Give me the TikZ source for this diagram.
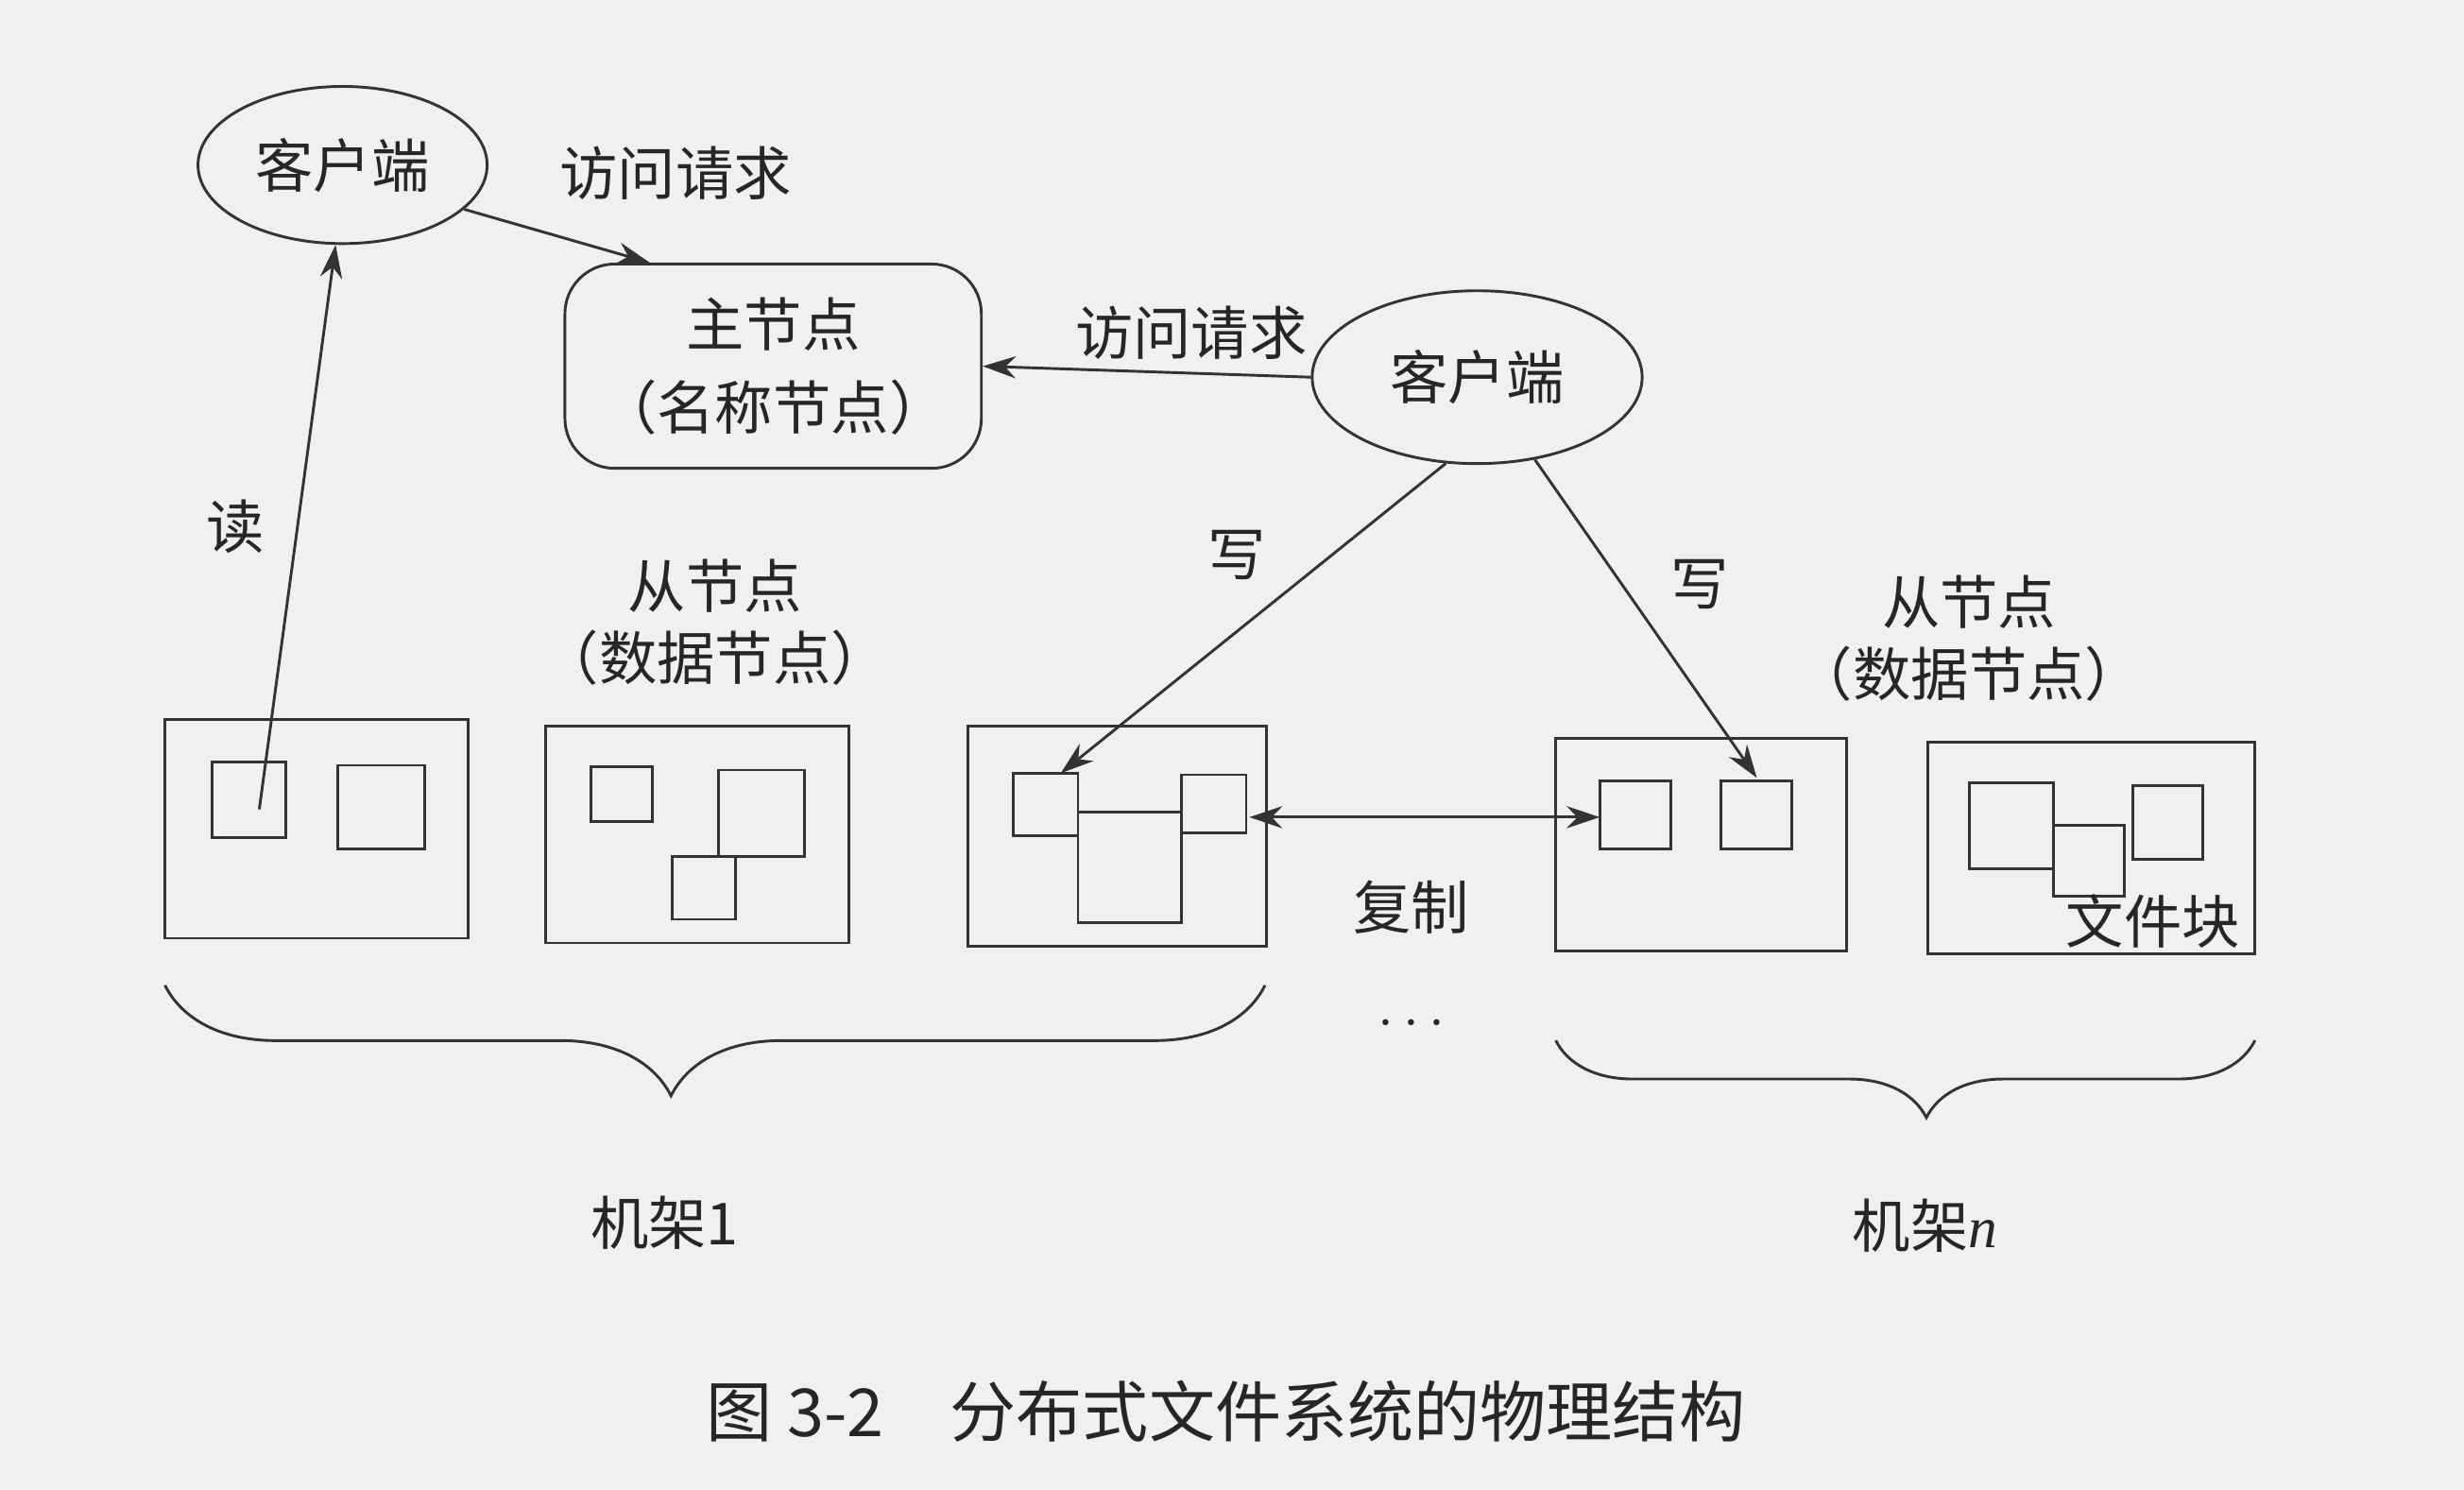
\documentclass[tikz,border=0pt]{standalone}
\usepackage{fontspec}
\setmainfont{Liberation Serif}
\newfontfamily\cjk{Noto Sans CJK SC}
\usetikzlibrary{decorations.pathreplacing,arrows.meta,shapes.geometric}
\begin{document}
\begin{tikzpicture}[x=0.02cm,y=-0.02cm,line width=1pt,
  txt/.style={font=\cjk\fontsize{21}{26}\selectfont,text=black!85},
  rack/.style={draw=black!80},
  blk/.style={draw=black!80},
  arr/.style={-{Stealth[length=12pt,width=8pt]},draw=black!80}]
\fill[gray!12] (0,0) rectangle (1568,948);
\useasboundingbox (0,0) rectangle (1568,948);
% clients
\node[draw=black!80,ellipse,minimum width=184*0.02cm,minimum height=100*0.02cm,inner sep=0pt,txt] (c1) at (218,105) {客户端};
\node[draw=black!80,ellipse,minimum width=210*0.02cm,minimum height=110*0.02cm,inner sep=0pt,txt] (c2) at (940,240) {客户端};
\node[draw=black!80,rounded corners=18pt,minimum width=265*0.02cm,minimum height=130*0.02cm,txt,align=center] (m) at (492,233) {主节点\\[4pt]（名称节点）};
\node[txt] (l1) at (430,110) {访问请求};
\node[txt] (l2) at (758,212) {访问请求};
\draw[arr] (c1.-20) -- (m.140);
\draw[arr] (c2.west) -- (m.east);
% racks
\node[rack,minimum width=193*0.02cm,minimum height=139*0.02cm] (b1) at (201.5,527.5) {};
\node[rack,minimum width=193*0.02cm,minimum height=138*0.02cm] (b2) at (443.5,531) {};
\node[rack,minimum width=190*0.02cm,minimum height=140*0.02cm] (b3) at (711,532) {};
\node[rack,minimum width=185*0.02cm,minimum height=135*0.02cm] (b4) at (1082.5,537.5) {};
\node[rack,minimum width=208*0.02cm,minimum height=135*0.02cm] (b5) at (1331,539.5) {};
% blocks
\draw[blk] (135,485) rectangle (182,533);
\draw[blk] (215,487) rectangle (270,540);
\draw[blk] (376,488) rectangle (415,523);
\draw[blk] (457,490) rectangle (512,545);
\draw[blk] (428,545) rectangle (468,585);
\draw[blk] (686,517) rectangle (752,587);
\draw[blk,fill=gray!12] (645,492) rectangle (686,532);
\draw[blk,fill=gray!12] (752,493) rectangle (793,530);
\draw[blk] (1018,497) rectangle (1063,540);
\draw[blk] (1095,497) rectangle (1140,540);
\draw[blk] (1253,498) rectangle (1307,553);
\draw[blk] (1307,525) rectangle (1352,570);
\draw[blk] (1357,500) rectangle (1402,547);
\node[txt] (wjk) at (1370,586) {文件块};
\coordinate (rd) at (165,515);
\draw[arr] (rd) -- (c1.265);
\node[txt] (du) at (150,335) {读};
\node[txt,align=center] (dn1) at (455,396) {从节点\\（数据节点）};
\node[txt,align=center] (dn2) at (1253,406) {从节点\\（数据节点）};
\coordinate (w1) at (675,492);
\coordinate (w2) at (1118,495);
\draw[arr] (c2.250) -- (w1);
\draw[arr] (c2.-55) -- (w2);
\node[txt] (x1) at (787,353) {写};
\node[txt] (x2) at (1082,372) {写};
\coordinate (pa) at (795,520);
\coordinate (pb) at (1018,520);
\draw[{Stealth[length=12pt,width=8pt]}-{Stealth[length=12pt,width=8pt]},draw=black!80] (pa) -- (pb);
\node[txt] (fz) at (898,577) {复制};
\node[txt] (dots) at (898,652) {$\cdots$};
\draw[decorate,decoration={brace,amplitude=40pt,mirror,aspect=0.46},draw=black!80] (105,627) -- (805,627);
\draw[decorate,decoration={brace,amplitude=28pt,mirror,aspect=0.53},draw=black!80] (990,662) -- (1435,662);
\node[txt] (r1) at (423,778) {机架1};
\node[txt] (rn) at (1225,780) {机架{\rmfamily\itshape n}};
\node[txt,font=\cjk\fontsize{24}{28}\selectfont] (cap) at (780,898) {图 3-2\quad 分布式文件系统的物理结构};
\end{tikzpicture}
\end{document}
